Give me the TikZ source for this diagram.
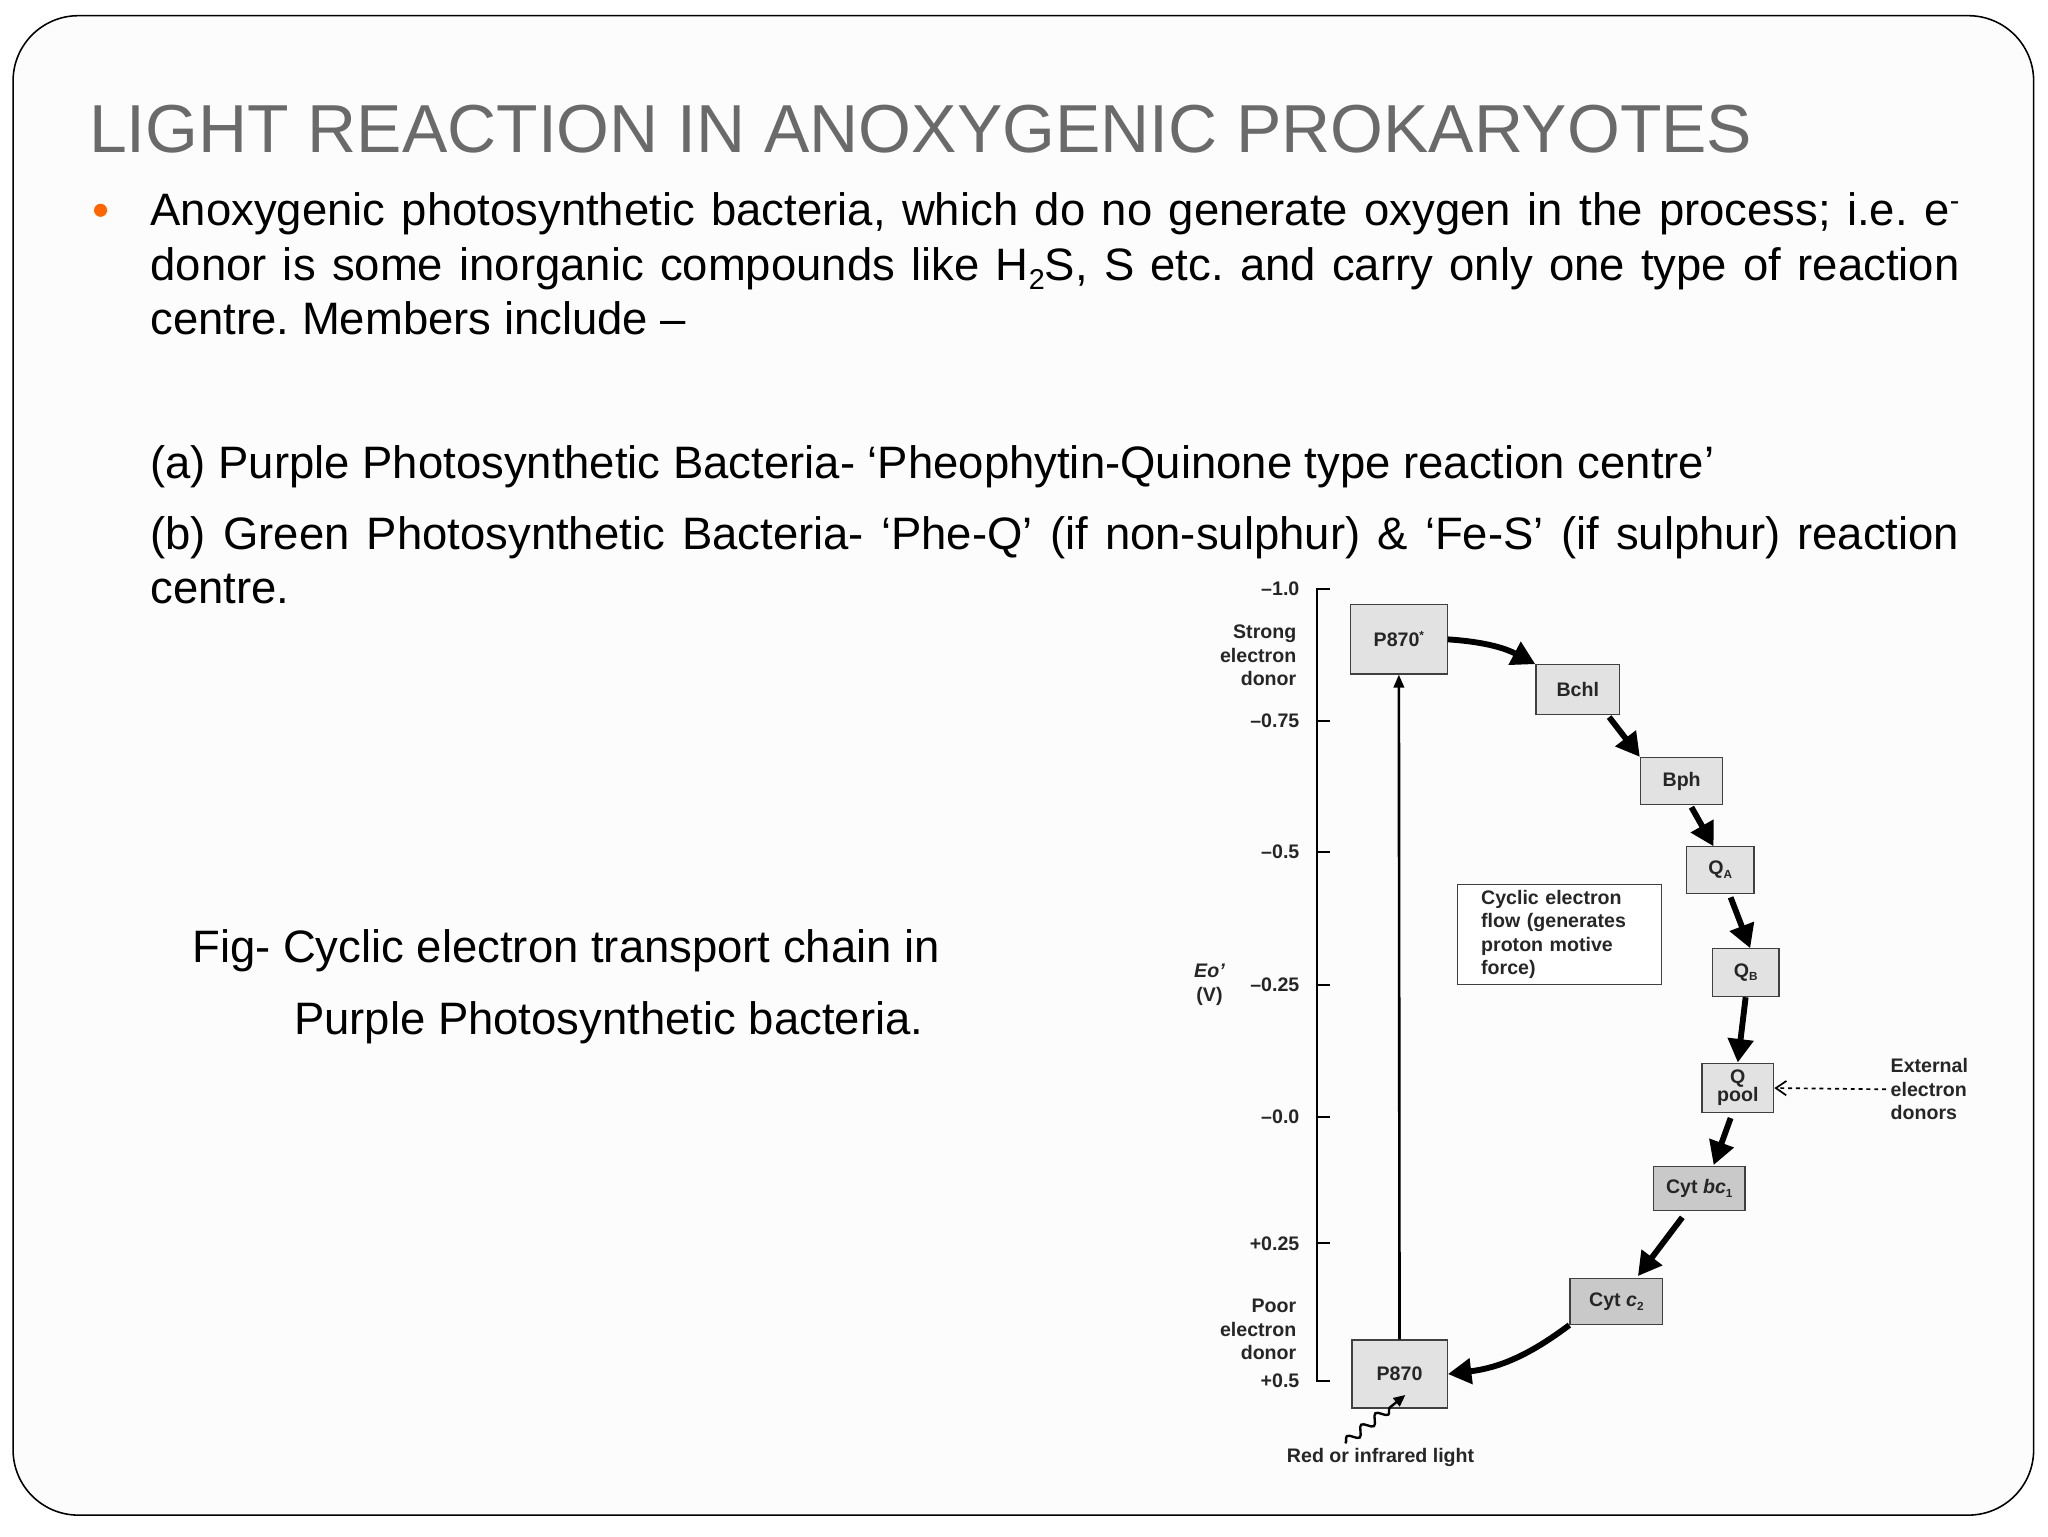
\documentclass[tikz,border=0pt]{standalone}
\usepackage{fontspec}
\setmainfont{Liberation Sans}
\usetikzlibrary{arrows.meta,decorations.pathmorphing}
\definecolor{titlegray}{HTML}{6A6A6A}
\definecolor{boxa}{HTML}{E2E2E2}
\definecolor{boxb}{HTML}{C9C9C9}
\newcommand{\sbs}[1]{\raisebox{-0.35ex}{\fontsize{9}{9}\selectfont #1}}
\frenchspacing
\begin{document}
\begin{tikzpicture}[x=1pt,y=-1pt,
  body/.style={font=\fontsize{34.8}{42}\selectfont,anchor=base west,inner sep=0},
  dg/.style={font=\fontsize{15}{18}\selectfont\bfseries,text=black!85},
  cbox/.style={draw=black!75,fill=boxa,line width=1pt,dg,inner sep=0},
  cboxd/.style={cbox,fill=boxb},
  tk/.style={dg,anchor=east,inner sep=0},
  flow/.style={-{Triangle[length=18pt,width=19pt]},line width=4.5pt},
]
\useasboundingbox (0,0) rectangle (1568,1176);
\fill[white] (0,0) rectangle (1568,1176);
\draw[line width=1.2pt,rounded corners=50pt,fill=black!1] (10,12) rectangle (1557,1160);
\node[anchor=base west,inner sep=0,text=titlegray,font=\fontsize{52}{60}\selectfont] (title) at (68,117) {LIGHT REACTION IN ANOXYGENIC PROKARYOTES};
\fill[orange!80!red] (77,161) circle (5);
\node[body,text width=1385pt,align=justify,anchor=north west] (para) at (115,147) {\frenchspacing Anoxygenic photosynthetic bacteria, which do no generate oxygen in the process; i.e. e\raisebox{0.6ex}{\fontsize{22}{22}\selectfont -} donor is some inorganic compounds like H\raisebox{-0.4ex}{\fontsize{22}{22}\selectfont 2}S, S etc. and carry only one type of reaction centre. Members include –};
\node[body] (pa) at (115,366) {(a) Purple Photosynthetic Bacteria- ‘Pheophytin-Quinone type reaction centre’};
\node[body,text width=1385pt,align=justify,anchor=north west] (pb) at (115,395) {(b) Green Photosynthetic Bacteria- ‘Phe-Q’ (if non-sulphur) \& ‘Fe-S’ (if sulphur) reaction centre.};
\node[body] (cap1) at (147,737) {Fig- Cyclic electron transport chain in};
\node[body] (cap2) at (225,792) {Purple Photosynthetic bacteria.};
% axis
\draw[line width=1.6pt] (1018,451) -- (1008,451) -- (1008,1057) -- (1018,1057);
\foreach \y/\l in {451/–1.0,552/–0.75,652/–0.5,754/–0.25,855/–0.0,952/+0.25,1057/+0.5}{
  \draw[line width=1.6pt] (1008,\y) -- (1018,\y);
  \node[tk] at (995,\y) {\l};}
\node[dg,align=right,anchor=east] (strong) at (996,502) {Strong\\electron\\donor};
\node[dg,align=right,anchor=east] (poor) at (996,1018) {Poor\\electron\\donor};
\node[dg,align=center] (eo) at (926,754) {\itshape Eo’\\(V)};
% boxes
\node[cbox,minimum width=74pt,minimum height=53pt] (p870s) at (1071,489.5) {P870\raisebox{0.7ex}{\fontsize{9}{9}\selectfont *}};
\node[cbox,minimum width=64pt,minimum height=38pt] (bchl) at (1208,528) {Bchl};
\node[cbox,minimum width=63pt,minimum height=36pt] (bph) at (1287.5,598) {Bph};
\node[cbox,minimum width=52pt,minimum height=36pt] (qa) at (1317,666) {Q\sbs{A}};
\node[cbox,minimum width=51pt,minimum height=37pt] (qb) at (1336.5,744.5) {Q\sbs{B}};
\node[cbox,minimum width=55pt,minimum height=38pt,align=center,font=\fontsize{15}{14}\selectfont\bfseries] (qpool) at (1330.5,833) {Q\\pool};
\node[cboxd,minimum width=70pt,minimum height=34pt] (bc1) at (1301,910) {Cyt \textit{bc}\sbs{1}};
\node[cboxd,minimum width=71pt,minimum height=35pt] (c2) at (1237.5,996.5) {Cyt \textit{c}\sbs{2}};
\node[cbox,minimum width=73pt,minimum height=52pt] (p870) at (1071.5,1052) {P870};
\node[draw=black!75,line width=1pt,fill=white,dg,minimum width=156pt,minimum height=77pt,align=left,text width=120pt] (cyc) at (1194,715.5) {Cyclic electron\\flow (generates\\proton motive\\force)};
\node[dg,align=left,anchor=west] (ext) at (1444,834) {External\\electron\\donors};
\node[dg,anchor=north] (light) at (1057,1105) {Red or infrared light};
% arrows
\draw[flow] (p870s.east) to[bend left=12] (bchl.north west);
\draw[flow] (1232,549) -- (bph.north west);
\draw[flow] (1295,618) -- (1312,648);
\draw[flow] (1325,687) -- (1340,726);
\draw[flow] (qb.south) -- (qpool.north);
\draw[flow] (1325,856) -- (1312,892);
\draw[flow] (1288,932) -- (1254,977);
\draw[flow] (c2.south west) to[bend left=15] (p870.east);
\draw[-{Triangle[length=10pt,width=8pt]},line width=2pt] (p870.north) -- (p870s.south);
\draw[dashed,line width=1.3pt,-{Straight Barb[length=8pt,width=11pt]}] (ext.west) -- (qpool.east);
\draw[line width=1.8pt,-{Triangle[length=9pt,width=8pt]},decorate,decoration={snake,amplitude=3.5pt,segment length=14pt,post length=10pt}] (1030,1105) -- (1076,1068);
\end{tikzpicture}
\end{document}
